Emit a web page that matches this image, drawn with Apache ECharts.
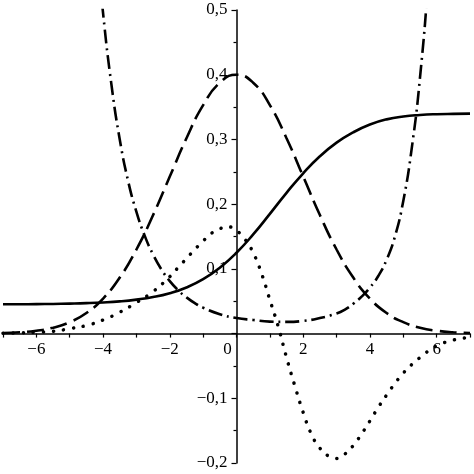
<!DOCTYPE html>
<html>
<head>
<meta charset="utf-8">
<script src="https://cdn.jsdelivr.net/npm/echarts@6/dist/echarts.min.js"></script>
<style>
html, body { margin: 0; padding: 0; background: #fff; }
#main { width: 474px; height: 474px; }
</style>
</head>
<body>
<div id="main"></div>
<script>
// curves
var dashX = [-7, -6.5, -6, -5.5, -5, -4.5, -4, -3.5, -3, -2.5, -2, -1.5, -1, -0.5, 0, 0.5, 1, 1.5, 2, 2.5, 3, 3.5, 4, 4.5, 5, 5.5, 6, 6.5, 7];
var dashY = [0.0009, 0.0020, 0.0044, 0.0091, 0.0176, 0.0318, 0.0541, 0.0865, 0.1299, 0.1831, 0.2426, 0.3019, 0.3530, 0.3877, 0.4000, 0.3877, 0.3530, 0.3019, 0.2426, 0.1831, 0.1299, 0.0865, 0.0541, 0.0318, 0.0176, 0.0091, 0.0044, 0.0020, 0.0009];

var solidX = [-7, -6.5, -6, -5.5, -5, -4.5, -4, -3.5, -3, -2.5, -2, -1.5, -1, -0.5, 0, 0.5, 1, 1.5, 2, 2.5, 3, 3.5, 4, 4.5, 5, 5.5, 6, 6.5, 7];
var solidY = [0.0452, 0.0453, 0.0455, 0.0458, 0.0463, 0.0470, 0.0481, 0.0498, 0.0525, 0.0564, 0.0624, 0.0713, 0.0841, 0.1018, 0.1249, 0.1532, 0.1850, 0.2175, 0.2477, 0.2740, 0.2950, 0.3110, 0.3230, 0.3310, 0.3355, 0.3378, 0.3390, 0.3395, 0.3398];

var dashDotX = [-4.25, -4, -3.75, -3.5, -3.25, -3, -2.75, -2.5, -2.25, -2, -1.75, -1.5, -1.25, -1, -0.5, 0, 0.5, 1, 1.5, 2, 2.5, 3, 3.25, 3.5, 3.75, 4, 4.25, 4.5, 4.75, 5, 5.25, 5.5, 5.75, 6];
var dashDotY = [0.63, 0.495, 0.385, 0.300, 0.236, 0.188, 0.151, 0.122, 0.099, 0.081, 0.067, 0.056, 0.047, 0.040, 0.030, 0.024, 0.021, 0.0185, 0.018, 0.0195, 0.024, 0.031, 0.037, 0.046, 0.057, 0.071, 0.089, 0.114, 0.150, 0.205, 0.285, 0.395, 0.55, 0.77];

var dotX = [-7, -6.5, -6, -5.5, -5, -4.5, -4, -3.5, -3, -2.5, -2, -1.75, -1.5, -1.25, -1, -0.75, -0.5, -0.25, 0, 0.25, 0.5, 0.75, 1, 1.25, 1.5, 1.75, 2, 2.25, 2.5, 2.75, 3, 3.25, 3.5, 3.75, 4, 4.25, 4.5, 4.75, 5, 5.25, 5.5, 5.75, 6, 6.5, 7];
var dotY = [0.0005, 0.001, 0.002, 0.0035, 0.0075, 0.0125, 0.021, 0.033, 0.048, 0.065, 0.088, 0.102, 0.116, 0.130, 0.143, 0.155, 0.162, 0.165, 0.159, 0.146, 0.125, 0.093, 0.052, 0.011, -0.037, -0.081, -0.122, -0.156, -0.177, -0.189, -0.193, -0.186, -0.173, -0.155, -0.135, -0.114, -0.095, -0.077, -0.061, -0.048, -0.037, -0.027, -0.019, -0.010, -0.006];

// axis labels
var xLabels = [-6, -4, -2, 0, 2, 4, 6];
var yLabels = [-0.2, -0.1, 0.1, 0.2, 0.3, 0.4, 0.5];

var xMin = -7, xMax = 7, yMin = -0.2, yMax = 0.5;

function pairs(xs, ys) {
    var out = [];
    for (var i = 0; i < xs.length; i++) {
        out.push([xs[i], ys[i]]);
    }
    return out;
}

function fmtNum(v, digits) {
    var s = Math.abs(v).toFixed(digits).replace('.', ',');
    return (v < 0 ? '\u2212' : '') + s;
}

function hasLabel(list, v) {
    for (var i = 0; i < list.length; i++) {
        if (Math.abs(list[i] - v) < 1e-6) return true;
    }
    return false;
}

var font = 'Liberation Serif';
var W = 474, H = 474;
var gl = 3, gr = 4, gt = 10, gb = 11;
var pw = W - gl - gr, ph = H - gt - gb;

// shift the axes so they cross at the origin
var yAxisOffset = -pw * (0 - xMin) / (xMax - xMin);
var xAxisOffset = -ph * (0 - yMin) / (yMax - yMin);

var myChart = echarts.init(document.getElementById('main'));
var option = {
    backgroundColor: '#fff',
    animation: false,
    grid: {
        left: gl,
        right: gr,
        top: gt,
        bottom: gb,
        containLabel: false,
        outerBoundsMode: 'none'
    },
    xAxis: {
        type: 'value',
        min: xMin,
        max: xMax,
        interval: 1,
        offset: xAxisOffset,
        axisLine: { onZero: false, lineStyle: { color: '#000', width: 1.5 } },
        axisTick: { show: true, length: 4, lineStyle: { color: '#000', width: 1.2 } },
        splitLine: { show: false },
        axisLabel: {
            margin: 7,
            color: '#000',
            fontFamily: font,
            fontSize: 17,
            showMinLabel: true,
            showMaxLabel: true,
            formatter: function (v) {
                if (!hasLabel(xLabels, v)) return '';
                if (v === 0) return '{z|0}';
                return fmtNum(v, 0);
            },
            rich: {
                z: { fontFamily: font, fontSize: 17, color: '#000', padding: [0, 18, 0, 0] }
            }
        }
    },
    yAxis: {
        type: 'value',
        min: yMin,
        max: yMax,
        interval: 0.1,
        offset: yAxisOffset,
        axisLine: { onZero: false, lineStyle: { color: '#000', width: 1.5 } },
        axisTick: { show: true, length: 5, lineStyle: { color: '#000', width: 1.2 } },
        minorTick: { show: true, splitNumber: 2, length: 3, lineStyle: { color: '#000', width: 1.2 } },
        splitLine: { show: false },
        axisLabel: {
            margin: 9,
            color: '#000',
            fontFamily: font,
            fontSize: 17,
            formatter: function (v) {
                if (!hasLabel(yLabels, v)) return '';
                return fmtNum(v, 1);
            }
        }
    },
    series: [{
        name: 'solid',
        type: 'line',
        smooth: true,
        showSymbol: false,
        clip: true,
        lineStyle: { color: '#000', width: 2.6 },
        data: pairs(solidX, solidY)
    }, {
        name: 'dash',
        type: 'line',
        smooth: true,
        showSymbol: false,
        clip: true,
        lineStyle: { color: '#000', width: 2.6, type: [17, 7] },
        data: pairs(dashX, dashY)
    }, {
        name: 'dashdot',
        type: 'line',
        smooth: true,
        showSymbol: false,
        clip: true,
        lineStyle: { color: '#000', width: 2.6, type: [14, 5, 2, 5] },
        data: pairs(dashDotX, dashDotY)
    }, {
        name: 'dot',
        type: 'line',
        smooth: true,
        showSymbol: false,
        clip: true,
        lineStyle: { color: '#000', width: 3.5, type: [0.1, 10], cap: 'round' },
        data: pairs(dotX, dotY)
    }]
};
myChart.setOption(option);
</script>
</body>
</html>
